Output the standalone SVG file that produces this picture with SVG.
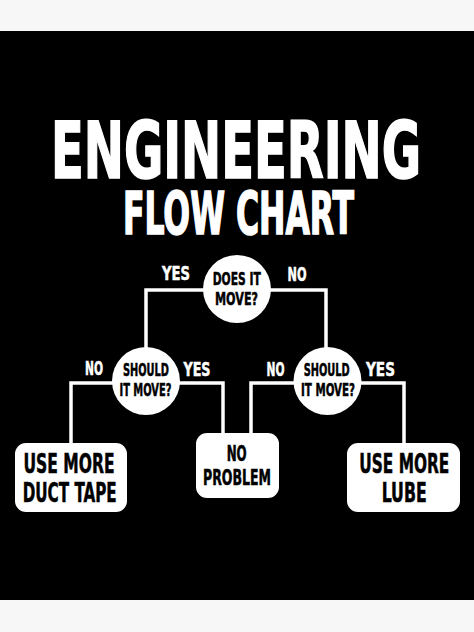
<svg xmlns="http://www.w3.org/2000/svg" width="474" height="632" viewBox="0 0 474 632">
<style>
.t{font-family:"Liberation Sans Narrow","DejaVu Sans Condensed","Liberation Sans",sans-serif;font-weight:bold;text-anchor:middle}
.w{fill:#ffffff;stroke:#ffffff;stroke-width:0.5}
.k{fill:#000000;stroke:#000000;stroke-width:0.5}
.big{stroke-width:1.6}
.c{fill:none;stroke:#ffffff;stroke-width:3.5;stroke-linejoin:miter;stroke-linecap:butt}
.node{fill:#ffffff}
</style>
<rect x="0" y="0" width="474" height="632" fill="#f7f7f7"/>
<rect x="0" y="31" width="474" height="569" fill="#000000"/>
<g id="title">
<text class="t w big" x="236" y="177.5" font-size="78" textLength="370" lengthAdjust="spacingAndGlyphs">ENGINEERING</text>
<text class="t w big" x="238.5" y="233.5" font-size="59" textLength="231" lengthAdjust="spacingAndGlyphs">FLOW CHART</text>
</g>
<g id="connectors">
<path class="c" d="M237,290 H146 V350"/>
<path class="c" d="M237,290 H326 V350"/>
<path class="c" d="M146,383 H71 V445"/>
<path class="c" d="M146,383 H223 V435"/>
<path class="c" d="M327,383 H251 V435"/>
<path class="c" d="M327,383 H404 V445"/>
</g>
<g id="labels">
<text class="t w" x="176" y="280" font-size="19" textLength="28" lengthAdjust="spacingAndGlyphs">YES</text>
<text class="t w" x="297" y="280.5" font-size="19" textLength="19" lengthAdjust="spacingAndGlyphs">NO</text>
<text class="t w" x="94" y="375" font-size="19" textLength="18" lengthAdjust="spacingAndGlyphs">NO</text>
<text class="t w" x="197" y="375.5" font-size="19" textLength="27" lengthAdjust="spacingAndGlyphs">YES</text>
<text class="t w" x="275.5" y="375.5" font-size="19" textLength="18" lengthAdjust="spacingAndGlyphs">NO</text>
<text class="t w" x="380.5" y="375.5" font-size="19" textLength="29" lengthAdjust="spacingAndGlyphs">YES</text>
</g>
<g id="q1">
<circle class="node" cx="237" cy="289" r="34"/>
<text class="t k" x="236.7" y="285" font-size="18" textLength="48" lengthAdjust="spacingAndGlyphs">DOES IT</text>
<text class="t k" x="236.5" y="305" font-size="18" textLength="43" lengthAdjust="spacingAndGlyphs">MOVE?</text>
</g>
<g id="q2">
<circle class="node" cx="146" cy="381" r="34"/>
<text class="t k" x="146" y="376" font-size="18" textLength="46" lengthAdjust="spacingAndGlyphs">SHOULD</text>
<text class="t k" x="145.5" y="396" font-size="18" textLength="52" lengthAdjust="spacingAndGlyphs">IT MOVE?</text>
</g>
<g id="q3">
<circle class="node" cx="327.5" cy="381" r="34"/>
<text class="t k" x="326.7" y="376" font-size="18" textLength="46" lengthAdjust="spacingAndGlyphs">SHOULD</text>
<text class="t k" x="328" y="396" font-size="18" textLength="54" lengthAdjust="spacingAndGlyphs">IT MOVE?</text>
</g>
<g id="duct-tape">
<rect class="node" x="15" y="443" width="112" height="69" rx="11"/>
<text class="t k" x="69" y="472.7" font-size="26" textLength="91" lengthAdjust="spacingAndGlyphs">USE MORE</text>
<text class="t k" x="69.7" y="501.7" font-size="26" textLength="94" lengthAdjust="spacingAndGlyphs">DUCT TAPE</text>
</g>
<g id="no-problem">
<rect class="node" x="196" y="433" width="83" height="65" rx="11"/>
<text class="t k" x="236.7" y="460.7" font-size="21" textLength="20" lengthAdjust="spacingAndGlyphs">NO</text>
<text class="t k" x="237" y="485" font-size="21" textLength="68" lengthAdjust="spacingAndGlyphs">PROBLEM</text>
</g>
<g id="lube">
<rect class="node" x="347" y="443" width="113" height="69" rx="11"/>
<text class="t k" x="404.3" y="472.7" font-size="26" textLength="90" lengthAdjust="spacingAndGlyphs">USE MORE</text>
<text class="t k" x="404.2" y="501.7" font-size="26" textLength="45" lengthAdjust="spacingAndGlyphs">LUBE</text>
</g>
</svg>
